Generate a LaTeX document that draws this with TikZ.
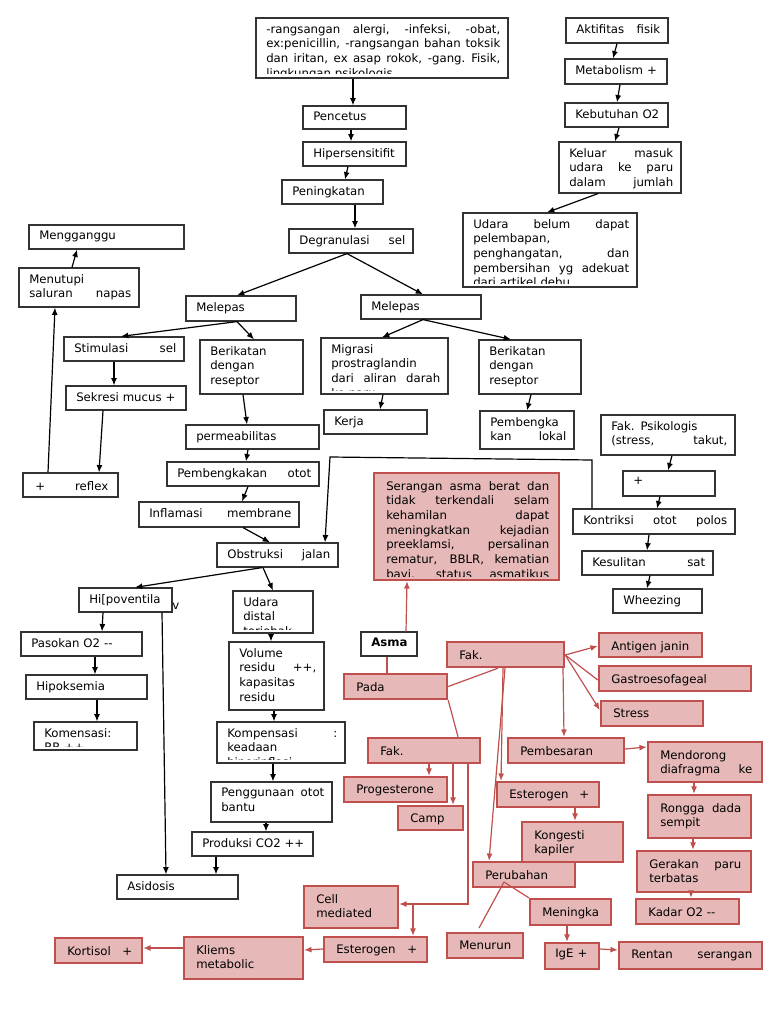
\documentclass[tikz,border=0pt]{standalone}
\usepackage{fontspec}
\setmainfont{DejaVu Sans}
\usetikzlibrary{arrows.meta,fit}
\definecolor{rfill}{HTML}{E6B9B8}
\definecolor{rline}{HTML}{C0504D}
\tikzset{
 blk/.style={draw=black!80, line width=0.9pt, fill=white},
 redbox/.style={draw=rline, line width=1.8pt, fill=rfill},
 txt/.style={anchor=north west, inner sep=0pt, font=\fontsize{8.8}{11}\selectfont, align=left},
 arr/.style={draw=black, line width=0.9pt, -{Latex[length=5.5pt,width=4.5pt]}},
 rarr/.style={draw=rline, line width=0.9pt, -{Latex[length=5.5pt,width=4.5pt]}},
 rln/.style={draw=rline, line width=0.9pt},
}
\newcommand\J[1]{\leavevmode\hbox to \hsize{\spaceskip=0.32em plus 10em\relax #1}}
\newcommand\B[8][10]{%
  \node[#7, fit={(#3,#4) (#5,#6)}, inner sep=0pt] (#2) {};
  \pgfmathsetlengthmacro\tw{(#5-#3-2*#1+2)*0.75}%
  \begin{scope}
    \clip (#3+1,#4+1) rectangle (#5-1,#6-4);
    \node[txt, text width=\tw] at (#3+#1,#4+#1-4) {#8};
  \end{scope}}
\begin{document}
\begin{tikzpicture}[x=0.75pt,y=-0.75pt]
\fill[white] (0,0) rectangle (768,1024);
\useasboundingbox (0,0) rectangle (768,1024);
% ---------------- black boxes
\B{top}{256}{18}{508}{78}{blk}{\J{-rangsangan alergi, -infeksi, -obat,}\\\J{ex:penicillin, -rangsangan bahan toksik}\\\J{dan iritan, ex asap rokok, -gang. Fisik,}\\lingkungan psikologis}
\B{pen}{303}{106}{406}{129}{blk}{Pencetus}
\B{hip}{303}{142}{406}{166}{blk}{Hipersensitifit}
\B{ping}{282}{180}{383}{204}{blk}{Peningkatan}
\B{deg}{289}{229}{413}{253}{blk}{\J{Degranulasi sel}}
\B{mgg}{29}{225}{184}{249}{blk}{Mengganggu}
\B{mtp}{19}{268}{139}{307}{blk}{Menutupi\\\J{saluran napas}}
\B{melL}{186}{296}{296}{321}{blk}{Melepas}
\B{melR}{361}{295}{481}{319}{blk}{Melepas}
\B{stim}{64}{337}{184}{361}{blk}{\J{Stimulasi sel}}
\B{sek}{66}{386}{186}{410}{blk}{Sekresi mucus +}
\B[12]{rfx}{23}{473}{118}{497}{blk}{\J{+ reflex}}
\B{berL}{200}{340}{303}{394}{blk}{Berikatan\\dengan\\reseptor}
\B{perm}{186}{425}{319}{449}{blk}{permeabilitas}
\B{pbk}{167}{462}{319}{486}{blk}{\J{Pembengkakan otot}}
\B{inf}{139}{502}{299}{527}{blk}{\J{Inflamasi membrane}}
\B{obs}{217}{543}{338}{567}{blk}{\J{Obstruksi jalan}}
\B{mig}{321}{338}{448}{394}{blk}{Migrasi\\prostraglandin\\\J{dari aliran darah}\\ke paru}
\B{berR}{479}{340}{581}{394}{blk}{Berikatan\\dengan\\reseptor}
\B{ker}{324}{410}{427}{434}{blk}{Kerja}
\B{pbl}{480}{411}{574}{449}{blk}{Pembengka\\\J{kan lokal}}
\B{fkp}{601}{415}{735}{455}{blk}{\J{Fak. Psikologis}\\\J{(stress, takut,}}
\B{pls}{623}{471}{715}{496}{blk}{+}
\B{kon}{573}{509}{735}{534}{blk}{\J{Kontriksi otot polos}}
\B{ksl}{582}{551}{713}{575}{blk}{\J{Kesulitan sat}}
\B{whz}{613}{589}{702}{613}{blk}{Wheezing}
\B{akt}{566}{18}{668}{43}{blk}{\J{Aktifitas fisik}}
\B{met}{565}{59}{667}{84}{blk}{Metabolism +}
\B{keb}{565}{103}{668}{127}{blk}{Kebutuhan O2}
\B{kel}{559}{142}{681}{193}{blk}{\J{Keluar masuk}\\\J{udara ke paru}\\\J{dalam jumlah}}
\B{ubd}{463}{213}{637}{287}{blk}{\J{Udara belum dapat}\\pelembapan,\\\J{penghangatan, dan}\\\J{pembersihan yg adekuat}\\dari artikel debu}
\B{hpv}{79}{588}{172}{612}{blk}{Hi[poventila}
\node[txt, anchor=base west] (vv) at (172,609) {v};
\B{pas}{21}{632}{142}{656}{blk}{Pasokan O2 -{}-}
\B{hpk}{26}{675}{147}{699}{blk}{Hipoksemia}
\B{kms}{34}{722}{137}{750}{blk}{Komensasi:\\RR ++}
\B{asd}{117}{875}{238}{899}{blk}{Asidosis}
\B{udd}{233}{591}{313}{633}{blk}{Udara\\distal\\terjebak}
\B{vol}{229}{642}{324}{710}{blk}{Volume\\\J{residu ++,}\\kapasitas\\residu}
\B{kmp}{217}{722}{345}{763}{blk}{\J{Kompensasi :}\\keadaan\\hiperinflasi}
\B{pgg}{211}{782}{332}{822}{blk}{\J{Penggunaan otot}\\bantu}
\B{prd}{192}{832}{313}{856}{blk}{Produksi CO2 ++}
\B{asm}{361}{632}{417}{656}{blk}{\textbf{Asma}}
% ---------------- red boxes
\B[12]{srg}{374}{473}{559}{580}{redbox}{\J{Serangan asma berat dan}\\\J{tidak terkendali selam}\\\J{kehamilan dapat}\\\J{meningkatkan kejadian}\\\J{preeklamsi, persalinan}\\\J{rematur, BBLR, kematian}\\\J{bayi, status asmatikus}}
\B[12]{pda}{344}{674}{447}{699}{redbox}{Pada}
\B[12]{fku}{447}{642}{564}{667}{redbox}{Fak.}
\B[12]{fkl}{368}{738}{480}{763}{redbox}{Fak.}
\B[12]{prg}{344}{777}{447}{802}{redbox}{Progesterone}
\B[12]{cmp}{398}{806}{463}{830}{redbox}{Camp}
\B[12]{atg}{599}{633}{702}{657}{redbox}{Antigen janin}
\B[12]{gas}{599}{666}{751}{691}{redbox}{Gastroesofageal}
\B[12]{str}{601}{701}{703}{726}{redbox}{Stress}
\B[12]{pbs}{508}{738}{624}{763}{redbox}{Pembesaran}
\B[12]{mdr}{648}{742}{762}{782}{redbox}{Mendorong\\\J{diafragma ke}}
\B[12]{esu}{497}{782}{599}{807}{redbox}{\J{Esterogen +}}
\B[12]{kgs}{522}{822}{623}{862}{redbox}{Kongesti\\kapiler}
\B[12]{rgg}{648}{795}{751}{838}{redbox}{\J{Rongga dada}\\sempit}
\B[12]{grk}{637}{851}{751}{892}{redbox}{\J{Gerakan paru}\\terbatas}
\B[12]{kdr}{636}{899}{739}{924}{redbox}{Kadar O2 -{}-}
\B[12]{prb}{473}{862}{575}{887}{redbox}{Perubahan}
\B[12]{mgk}{530}{899}{611}{925}{redbox}{Meningka}
\B[12]{mnr}{447}{933}{523}{958}{redbox}{Menurun}
\B[10]{ige}{545}{943}{599}{969}{redbox}{IgE +}
\B[12]{rtn}{619}{942}{762}{969}{redbox}{\J{Rentan serangan}}
\B[12]{cel}{304}{886}{398}{928}{redbox}{Cell\\mediated}
\B[12]{esl}{324}{937}{427}{962}{redbox}{\J{Esterogen +}}
\B[12]{klm}{184}{937}{303}{979}{redbox}{Kliems\\metabolic}
\B[12]{kts}{55}{938}{142}{963}{redbox}{\J{Kortisol +}}
% ---------------- black connectors
\draw[arr] (top.south -| 353,0) -- (pen.north -| 353,0);
\draw[arr] (pen.south -| 351,0) -- (hip.north -| 351,0);
\draw[arr] (hip.south -| 348,0) -- (ping.north -| 345,0);
\draw[arr] (ping.south -| 355,0) -- (deg.north -| 355,0);
\draw[arr] (deg.south -| 347,0) -- (melL.north -| 237,0);
\draw[arr] (deg.south -| 347,0) -- (melR.north -| 423,0);
\draw[arr] (mtp.north -| 72,0) -- (mgg.south -| 77,0);
\draw[arr] (rfx.north -| 48,0) -- (mtp.south -| 55,0);
\draw[arr] (melL.south -| 237,0) -- (stim.north -| 121,0);
\draw[arr] (melL.south -| 237,0) -- (berL.north -| 254,0);
\draw[arr] (stim.south -| 114,0) -- (sek.north -| 114,0);
\draw[arr] (sek.south -| 103,0) -- (rfx.north -| 99,0);
\draw[arr] (berL.south -| 243,0) -- (perm.north -| 247,0);
\draw[arr] (perm.south -| 248,0) -- (pbk.north -| 246,0);
\draw[arr] (pbk.south -| 248,0) -- (inf.north -| 242,0);
\draw[arr] (inf.south -| 243,0) -- (obs.north -| 270,0);
\coordinate (k1) at (592,460);
\coordinate (k2) at (330,457);
\draw[arr] (kon.north -| 592,0) -- (k1) -- (k2) -- (obs.north -| 325,0);
\draw[arr] (melR.south -| 423,0) -- (mig.north -| 382,0);
\draw[arr] (melR.south -| 423,0) -- (berR.north -| 511,0);
\draw[arr] (mig.south -| 383,0) -- (ker.north -| 380,0);
\draw[arr] (berR.south -| 531,0) -- (pbl.north -| 527,0);
\draw[arr] (fkp.south -| 672,0) -- (pls.north -| 668,0);
\draw[arr] (pls.south -| 660,0) -- (kon.north -| 657,0);
\draw[arr] (kon.south -| 649,0) -- (ksl.north -| 647,0);
\draw[arr] (ksl.south -| 650,0) -- (whz.north -| 647,0);
\draw[arr] (akt.south -| 617,0) -- (met.north -| 613,0);
\draw[arr] (met.south -| 620,0) -- (keb.north -| 617,0);
\draw[arr] (keb.south -| 619,0) -- (kel.north -| 615,0);
\draw[arr] (kel.south -| 598,0) -- (ubd.north -| 547,0);
\draw[arr] (obs.south -| 262,0) -- (hpv.north -| 135,0);
\draw[arr] (obs.south -| 263,0) -- (udd.north -| 273,0);
\draw[arr] (hpv.south -| 103,0) -- (pas.north -| 102,0);
\draw[arr] (pas.south -| 95,0) -- (hpk.north -| 95,0);
\draw[arr] (hpk.south -| 97,0) -- (kms.north -| 97,0);
\draw[arr] (hpv.south -| 162,0) -- (asd.north -| 166,0);
\draw[arr] (udd.south -| 271,0) -- (vol.north -| 271,0);
\draw[arr] (vol.south -| 274,0) -- (kmp.north -| 274,0);
\draw[arr] (kmp.south -| 273,0) -- (pgg.north -| 273,0);
\draw[arr] (pgg.south -| 266,0) -- (prd.north -| 266,0);
\draw[arr] (prd.south -| 216,0) -- (asd.north -| 216,0);
% ---------------- red connectors
\draw[rarr] (asm.north -| 406,0) -- (srg.south -| 407,0);
\draw[rln] (asm.south -| 387,0) -- (pda.north -| 387,0);
\draw[rln] (pda.east) -- (fku.south -| 498,0);
\draw[rln] (pda.south east) -- (fkl.north -| 458,0);
\draw[rarr] (fku.east |- 0,655) -- (atg.west |- 0,646);
\draw[rln] (fku.east |- 0,655) -- (gas.west |- 0,680);
\draw[rarr] (fku.east |- 0,655) -- (str.west |- 0,710);
\draw[rarr] (fku.south -| 563,0) -- (pbs.north -| 564,0);
\draw[rarr] (fku.south -| 503,0) -- (esu.north -| 501,0);
\draw[rarr] (fku.south -| 505,0) -- (prb.north -| 489,0);
\draw[rarr] (fkl.south -| 429,0) -- (prg.north -| 429,0);
\draw[rarr] (fkl.south -| 453,0) -- (cmp.north -| 453,0);
\coordinate (f1) at (468,904);
\coordinate (f2) at (413,904);
\draw[rarr] (fkl.south -| 468,0) -- (f1) -- (cel.east |- 0,904);
\draw[rarr] (f2) -- (esl.north -| 413,0);
\draw[rarr] (pbs.east |- 0,749) -- (mdr.west |- 0,747);
\draw[rarr] (esu.south -| 575,0) -- (kgs.north -| 575,0);
\draw[rarr] (mdr.south -| 694,0) -- (rgg.north -| 694,0);
\draw[rarr] (rgg.south -| 693,0) -- (grk.north -| 693,0);
\draw[rarr] (grk.south -| 691,0) -- (kdr.north -| 691,0);
\coordinate (p0) at (504,882);
\draw[rln] (p0) -- (mgk.north west);
\draw[rln] (p0) -- (479,928) coordinate (p1);
\draw[rarr] (mgk.south -| 567,0) -- (ige.north -| 567,0);
\draw[rarr] (ige.east |- 0,949) -- (rtn.west |- 0,950);
\draw[rarr] (esl.west |- 0,949) -- (klm.east |- 0,950);
\draw[rarr] (klm.west |- 0,948) -- (kts.east |- 0,948);
\end{tikzpicture}
\end{document}
